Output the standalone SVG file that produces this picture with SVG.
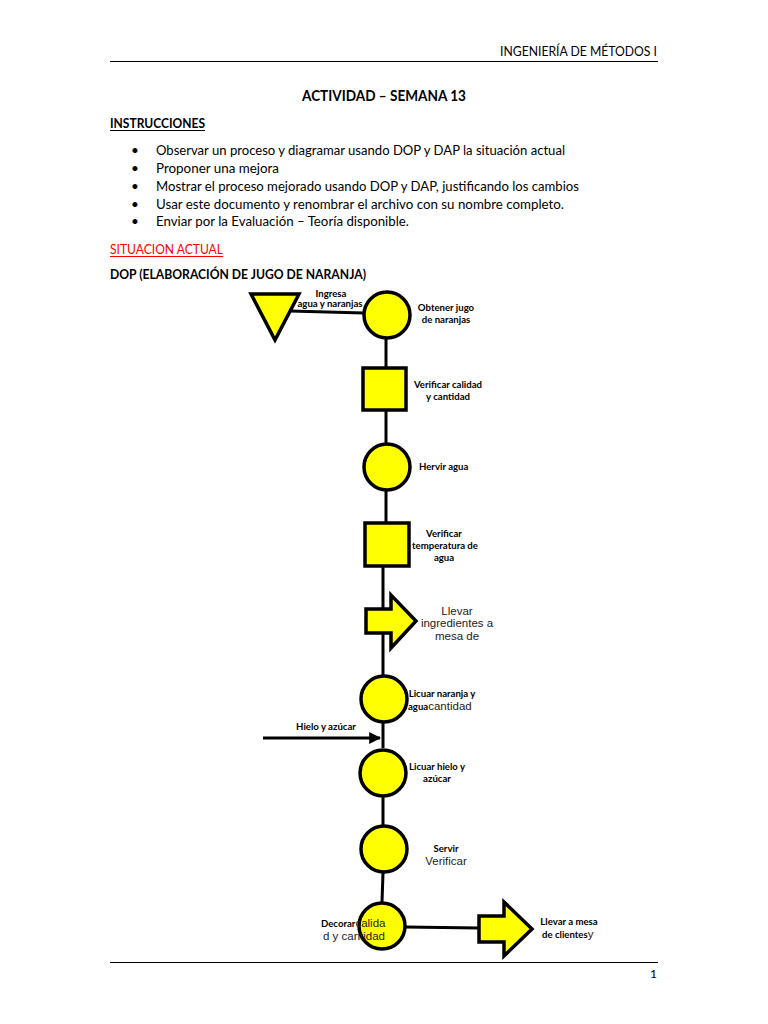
<svg xmlns="http://www.w3.org/2000/svg" width="768" height="1024" viewBox="0 0 768 1024">
<defs>
<style>
.doc{font-family:Lato,"Open Sans","Liberation Sans",sans-serif;fill:#000}
.b{font-weight:bold}
.body{font-size:13.5px}
.lbl{font-family:Lato,"Open Sans","Liberation Sans",sans-serif;font-weight:bold;font-size:9.6px;fill:#000}
.reg{font-family:"Liberation Sans",Arial,sans-serif;font-size:11.5px;fill:#222}
.shape{fill:#ffff00;stroke:#000;stroke-width:3.5}
.conn{stroke:#000;stroke-width:3;fill:none}
.rule{stroke:#000;stroke-width:1.2}
</style>
<marker id="ah" viewBox="0 0 10 10" refX="9" refY="5" markerWidth="4" markerHeight="4" orient="auto" markerUnits="strokeWidth">
<path d="M0,0 L10,5 L0,10 z" fill="#000"/>
</marker>
</defs>
<rect width="768" height="1024" fill="#fff"/>

<g id="page">
<text class="doc" x="657" y="56" font-size="13.5" text-anchor="end" textLength="157" lengthAdjust="spacingAndGlyphs">INGENIERÍA DE MÉTODOS I</text>
<line class="rule" x1="110" y1="61.5" x2="658" y2="61.5"/>
<text class="doc b" x="384" y="101" font-size="15" text-anchor="middle" textLength="164" lengthAdjust="spacingAndGlyphs">ACTIVIDAD – SEMANA 13</text>
<text class="doc b" x="110" y="128" font-size="13.5" textLength="95" lengthAdjust="spacingAndGlyphs">INSTRUCCIONES</text>
<line x1="110" y1="130.5" x2="205" y2="130.5" stroke="#000" stroke-width="1"/>
<g class="doc body">
<text x="131" y="155">•</text><text x="156" y="155" textLength="409" lengthAdjust="spacingAndGlyphs">Observar un proceso y diagramar usando DOP y DAP la situación actual</text>
<text x="131" y="173">•</text><text x="156" y="173" textLength="123" lengthAdjust="spacingAndGlyphs">Proponer una mejora</text>
<text x="131" y="191">•</text><text x="156" y="191" textLength="423" lengthAdjust="spacingAndGlyphs">Mostrar el proceso mejorado usando DOP y DAP, justificando los cambios</text>
<text x="131" y="209">•</text><text x="156" y="209" textLength="408" lengthAdjust="spacingAndGlyphs">Usar este documento y renombrar el archivo con su nombre completo.</text>
<text x="131" y="226">•</text><text x="156" y="226" textLength="253" lengthAdjust="spacingAndGlyphs">Enviar por la Evaluación – Teoría disponible.</text>
</g>
<text x="110" y="254" font-family="Lato,'Open Sans','Liberation Sans',sans-serif" font-size="13.5" fill="#ff0000" textLength="113" lengthAdjust="spacingAndGlyphs">SITUACION ACTUAL</text>
<line x1="110" y1="256.5" x2="223" y2="256.5" stroke="#ff0000" stroke-width="1"/>
<text class="doc b" x="110" y="279" font-size="13.5" textLength="256" lengthAdjust="spacingAndGlyphs">DOP (ELABORACIÓN DE JUGO DE NARANJA)</text>
<line class="rule" x1="110" y1="962.5" x2="658" y2="962.5"/>
<text class="doc" x="657" y="978" font-size="12" text-anchor="end">1</text>
</g>

<g id="connectors">
<line class="conn" x1="290" y1="311" x2="364" y2="313"/>
<line class="conn" x1="386" y1="338" x2="386" y2="367"/>
<line class="conn" x1="386" y1="410" x2="386" y2="443"/>
<line class="conn" x1="386" y1="491" x2="386" y2="522"/>
<line class="conn" x1="383" y1="567" x2="383" y2="675"/>
<line class="conn" x1="383" y1="723" x2="383" y2="748"/>
<line class="conn" x1="383" y1="797" x2="383" y2="825"/>
<line class="conn" x1="383" y1="873" x2="382" y2="902"/>
<line class="conn" x1="405" y1="927" x2="479" y2="928"/>
<line class="conn" x1="263" y1="738" x2="380" y2="738" marker-end="url(#ah)"/>
</g>

<g id="n1-ingresa">
<polygon class="shape" points="251,294 299,294 275,340"/>
<text class="lbl" x="331" y="297" text-anchor="middle">Ingresa</text>
<text class="lbl" x="330" y="307" text-anchor="middle">agua y naranjas</text>
</g>

<g id="n2-obtener">
<circle class="shape" cx="387" cy="315" r="23"/>
<text class="lbl" x="446" y="311" text-anchor="middle">Obtener jugo</text>
<text class="lbl" x="446" y="323" text-anchor="middle">de naranjas</text>
</g>

<g id="n3-verificar">
<rect class="shape" x="363" y="368" width="43" height="42"/>
<text class="lbl" x="448" y="388" text-anchor="middle">Verificar calidad</text>
<text class="lbl" x="448" y="400" text-anchor="middle">y cantidad</text>
</g>

<g id="n4-hervir">
<circle class="shape" cx="387" cy="467" r="23"/>
<text class="lbl" x="419" y="470">Hervir agua</text>
</g>

<g id="n5-verificar-temp">
<rect class="shape" x="365" y="523" width="44" height="43"/>
<text class="lbl" x="444" y="537" text-anchor="middle">Verificar</text>
<text class="lbl" x="445" y="549" text-anchor="middle">temperatura de</text>
<text class="lbl" x="444" y="561" text-anchor="middle">agua</text>
</g>

<g id="n6-llevar">
<polygon class="shape" points="366,609 391,609 391,595 416,621 391,648 391,633 366,633"/>
<text class="reg" x="457" y="615" text-anchor="middle">Llevar</text>
<text class="reg" x="457" y="627" text-anchor="middle">ingredientes a</text>
<text class="reg" x="457" y="640" text-anchor="middle">mesa de</text>
</g>

<g id="n7-licuar-naranja">
<circle class="shape" cx="384" cy="699" r="23"/>
<text class="lbl" x="442" y="697" text-anchor="middle">Licuar naranja y</text>
<text x="408" y="710"><tspan class="lbl">agua</tspan><tspan class="reg">cantidad</tspan></text>
</g>

<g id="hielo-label">
<text class="lbl" x="326" y="730" text-anchor="middle">Hielo y azúcar</text>
</g>

<g id="n8-licuar-hielo">
<circle class="shape" cx="383" cy="773" r="23"/>
<text class="lbl" x="437" y="770" text-anchor="middle">Licuar hielo y</text>
<text class="lbl" x="437" y="782" text-anchor="middle">azúcar</text>
</g>

<g id="n9-servir">
<circle class="shape" cx="384" cy="849" r="23"/>
<text class="lbl" x="446" y="852" text-anchor="middle">Servir</text>
<text class="reg" x="446" y="865" text-anchor="middle">Verificar</text>
</g>

<g id="n10-decorar">
<circle class="shape" cx="382" cy="926" r="23"/>
<text x="321" y="927"><tspan class="lbl">Decorar</tspan><tspan class="reg">calida</tspan></text>
<text class="reg" x="323" y="940">d y cantidad</text>
</g>

<g id="n11-llevar-clientes">
<polygon class="shape" points="479,916 504,916 504,902 532,929 504,956 504,942 479,942"/>
<text class="lbl" x="569" y="925" text-anchor="middle">Llevar a mesa</text>
<text x="542" y="938"><tspan class="lbl">de clientes</tspan><tspan class="reg" font-size="10">y</tspan></text>
</g>
</svg>
